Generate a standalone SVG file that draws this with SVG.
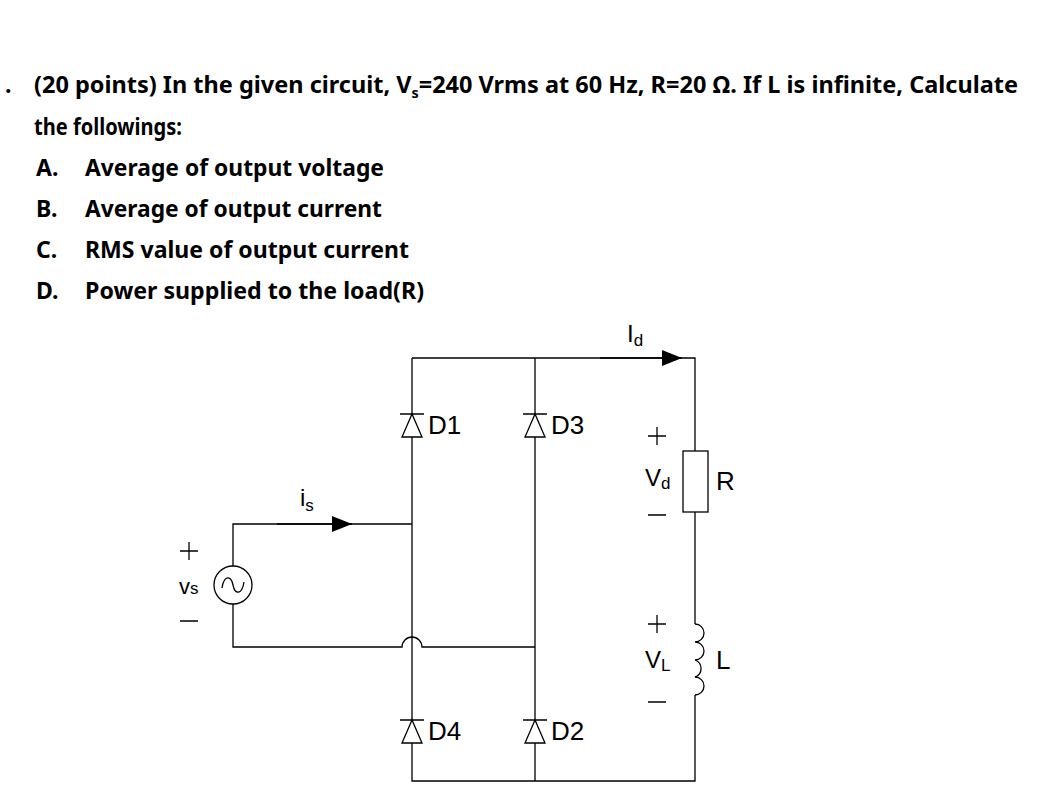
<svg xmlns="http://www.w3.org/2000/svg" width="1061" height="807" viewBox="0 0 1061 807">
<style>
.t{font-family:"Noto Sans",sans-serif;font-weight:bold;font-size:23px;fill:#000}
.c{font-family:"Liberation Sans",Arial,sans-serif;font-size:26px;fill:#000}
.w{stroke:#000;stroke-width:1.3;fill:none}
</style>
<defs>
<marker id="ar" markerWidth="20" markerHeight="16" refX="20" refY="8" orient="auto" markerUnits="userSpaceOnUse"><path d="M0,0 L20,8 L0,16 Z" fill="#000"/></marker>
<g id="diode"><path d="M-12,0 H12 M0,0 L-10,23 H10 Z" stroke="#000" stroke-width="1.3" fill="#fff"/></g>
</defs>
<rect width="1061" height="807" fill="#fff"/>
<text class="t" x="5" y="93">.</text>
<text class="t" x="34" y="93" textLength="984" lengthAdjust="spacingAndGlyphs">(20 points) In the given circuit, V<tspan style="font-size:14px" dy="5">s</tspan><tspan dy="-5">=240 Vrms at 60 Hz, R=20  Ω. If L is infinite, Calculate</tspan></text>
<text class="t" x="34" y="135" textLength="148" lengthAdjust="spacingAndGlyphs">the followings:</text>
<text class="t" x="36" y="176">A.</text><text class="t" x="85" y="176" textLength="299" lengthAdjust="spacingAndGlyphs">Average of output voltage</text>
<text class="t" x="36" y="217">B.</text><text class="t" x="85" y="217" textLength="297" lengthAdjust="spacingAndGlyphs">Average of output current</text>
<text class="t" x="36" y="258">C.</text><text class="t" x="85" y="258" textLength="324" lengthAdjust="spacingAndGlyphs">RMS value of output current</text>
<text class="t" x="36" y="299">D.</text><text class="t" x="85" y="299" textLength="339" lengthAdjust="spacingAndGlyphs">Power supplied to the load(R)</text>
<g id="connectors">
<path class="w" d="M412,358 H695 V451 M695,512 V624 M695,695 V781 H412 V358"/>
<path class="w" d="M535,358 V781"/>
<path class="w" d="M233,566 V524 H412"/>
<path class="w" d="M277,524 H352" marker-end="url(#ar)"/>
<path class="w" d="M600,358 H682" marker-end="url(#ar)"/>
<path class="w" d="M233,604 V647 H402 A10,10 0 0 1 422,647 H535"/>
</g>
<g id="D1"><use href="#diode" x="412" y="414"/><text class="c" x="428" y="434">D1</text></g>
<g id="D3"><use href="#diode" x="535" y="414"/><text class="c" x="551" y="434">D3</text></g>
<g id="D4"><use href="#diode" x="412" y="720"/><text class="c" x="428" y="740">D4</text></g>
<g id="D2"><use href="#diode" x="535" y="720"/><text class="c" x="551" y="740">D2</text></g>
<g id="Vs"><circle class="w" cx="233" cy="585" r="19"/><path class="w" d="M222,588 C224,575 231,575 233,585 C235,595 242,595 244,582"/>
<path class="w" d="M180,551 H198 M189,542 V560 M180,621 H198"/><text class="c" x="179" y="594" style="font-size:22px">v<tspan style="font-size:17px">s</tspan></text></g>
<text class="c" x="300" y="506" style="font-size:24px">i<tspan style="font-size:17px" dy="5">s</tspan></text>
<text class="c" x="627" y="342" style="font-size:24px">I<tspan style="font-size:17px" dy="4">d</tspan></text>
<g id="R"><rect class="w" x="683" y="451" width="25" height="61" fill="#fff"/><text class="c" x="716" y="490">R</text>
<path class="w" d="M648,436 H666 M657,427 V445 M648,515 H666"/><text class="c" x="645" y="486" style="font-size:24px">V<tspan style="font-size:17px" dy="3">d</tspan></text></g>
<g id="L"><path class="w" d="M695,624 a9,9 0 0 1 0,18 a9,9 0 0 1 0,18 a9,9 0 0 1 0,17 a9,9 0 0 1 0,18"/><text class="c" x="716" y="669">L</text>
<path class="w" d="M648,624 H666 M657,615 V633 M648,702 H666"/><text class="c" x="645" y="668" style="font-size:24px">V<tspan style="font-size:17px" dy="3">L</tspan></text></g>
</svg>
